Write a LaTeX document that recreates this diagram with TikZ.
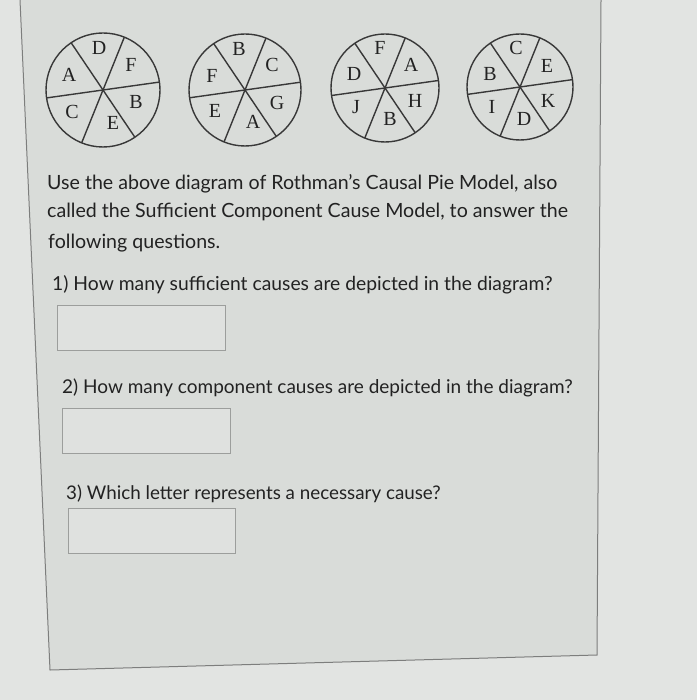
\documentclass[tikz,border=0pt]{standalone}
\usepackage{fontspec}
\setmainfont{Lato}
\newfontfamily\pieletter{Liberation Serif}
\definecolor{bgout}{HTML}{E2E4E2}
\definecolor{bgin}{HTML}{D9DCD9}
\definecolor{ink}{HTML}{222222}
\definecolor{boxline}{HTML}{9C9E9C}
\definecolor{boxfill}{HTML}{DFE1DF}
\begin{document}
\begin{tikzpicture}[x=1pt,y=-1pt,
  pieline/.style={draw=ink!90,line width=1.4pt},
  letter/.style={font=\pieletter\fontsize{20}{20}\selectfont,text=ink,inner sep=0pt},
  body/.style={font=\fontsize{19.6}{22}\selectfont,text=ink,anchor=base west,inner sep=0pt},
  answerbox/.style={draw=boxline,fill=boxfill,line width=0.9pt}]
\useasboundingbox (0,0) rectangle (697,700);
\fill[bgout] (0,0) rectangle (697,700);
\fill[bgin] (20,0) -- (601,0) -- (597,655) -- (50,670) -- cycle;
\draw[boxline!80!black,line width=1pt] (20,0) -- (50,670) -- (597,655) -- (601,0);
% Pie 1
\begin{scope}[shift={(103,90)}]
  \draw[pieline] (0,0) circle[radius=57];
  \draw[pieline] (-8:57) -- (172:57);
  \draw[pieline] (-68:57) -- (112:57);
  \draw[pieline] (-124:57) -- (56:57);
  \node[letter] (p1a) at (-4,-42) {D};
  \node[letter] (p1b) at (28,-25) {F};
  \node[letter] (p1c) at (33,12) {B};
  \node[letter] (p1d) at (10,33) {E};
  \node[letter] (p1e) at (-31,22) {C};
  \node[letter] (p1f) at (-34,-15) {A};
\end{scope}
% Pie 2
\begin{scope}[shift={(245,90)}]
  \draw[pieline] (0,0) circle[radius=56];
  \draw[pieline] (-8:56) -- (172:56);
  \draw[pieline] (-68:56) -- (112:56);
  \draw[pieline] (-124:56) -- (56:56);
  \node[letter] (p2a) at (-6,-41) {B};
  \node[letter] (p2b) at (27,-25) {C};
  \node[letter] (p2c) at (32,13) {G};
  \node[letter] (p2d) at (8,32) {A};
  \node[letter] (p2e) at (-30,21) {E};
  \node[letter] (p2f) at (-33,-14) {F};
\end{scope}
% Pie 3
\begin{scope}[shift={(385,88)}]
  \draw[pieline] (0,0) circle[radius=54];
  \draw[pieline] (-8:54) -- (172:54);
  \draw[pieline] (-68:54) -- (112:54);
  \draw[pieline] (-124:54) -- (56:54);
  \node[letter] (p3a) at (-5,-40) {F};
  \node[letter] (p3b) at (26,-23) {A};
  \node[letter] (p3c) at (30,13) {H};
  \node[letter] (p3d) at (5,31) {B};
  \node[letter] (p3e) at (-29,19) {J};
  \node[letter] (p3f) at (-31,-14) {D};
\end{scope}
% Pie 4
\begin{scope}[shift={(520,87)}]
  \draw[pieline] (0,0) circle[radius=53];
  \draw[pieline] (-8:53) -- (172:53);
  \draw[pieline] (-68:53) -- (112:53);
  \draw[pieline] (-124:53) -- (56:53);
  \node[letter] (p4a) at (-4,-39) {C};
  \node[letter] (p4b) at (27,-21) {E};
  \node[letter] (p4c) at (28,14) {K};
  \node[letter] (p4d) at (4,32) {D};
  \node[letter] (p4e) at (-28,20) {I};
  \node[letter] (p4f) at (-30,-13) {B};
\end{scope}
% text
\node[body] (t1) at (47,190) {Use the above diagram of Rothman's Causal Pie Model, also};
\node[body] (t2) at (47,218) {called the Sufficient Component Cause Model, to answer the};
\node[body] (t3) at (48,248) {following questions.};
\node[body,font=\fontsize{19.3}{22}\selectfont] (q1) at (52,290) {1) How many sufficient causes are depicted in the diagram?};
\draw[answerbox] (57,305) rectangle (225,350);
\node[body,font=\fontsize{19.0}{22}\selectfont] (q2) at (62,393) {2) How many component causes are depicted in the diagram?};
\draw[answerbox] (62,408) rectangle (230,453);
\node[body,font=\fontsize{18.8}{22}\selectfont] (q3) at (66,499) {3) Which letter represents a necessary cause?};
\draw[answerbox] (68,508) rectangle (235,553);
\end{tikzpicture}
\end{document}
